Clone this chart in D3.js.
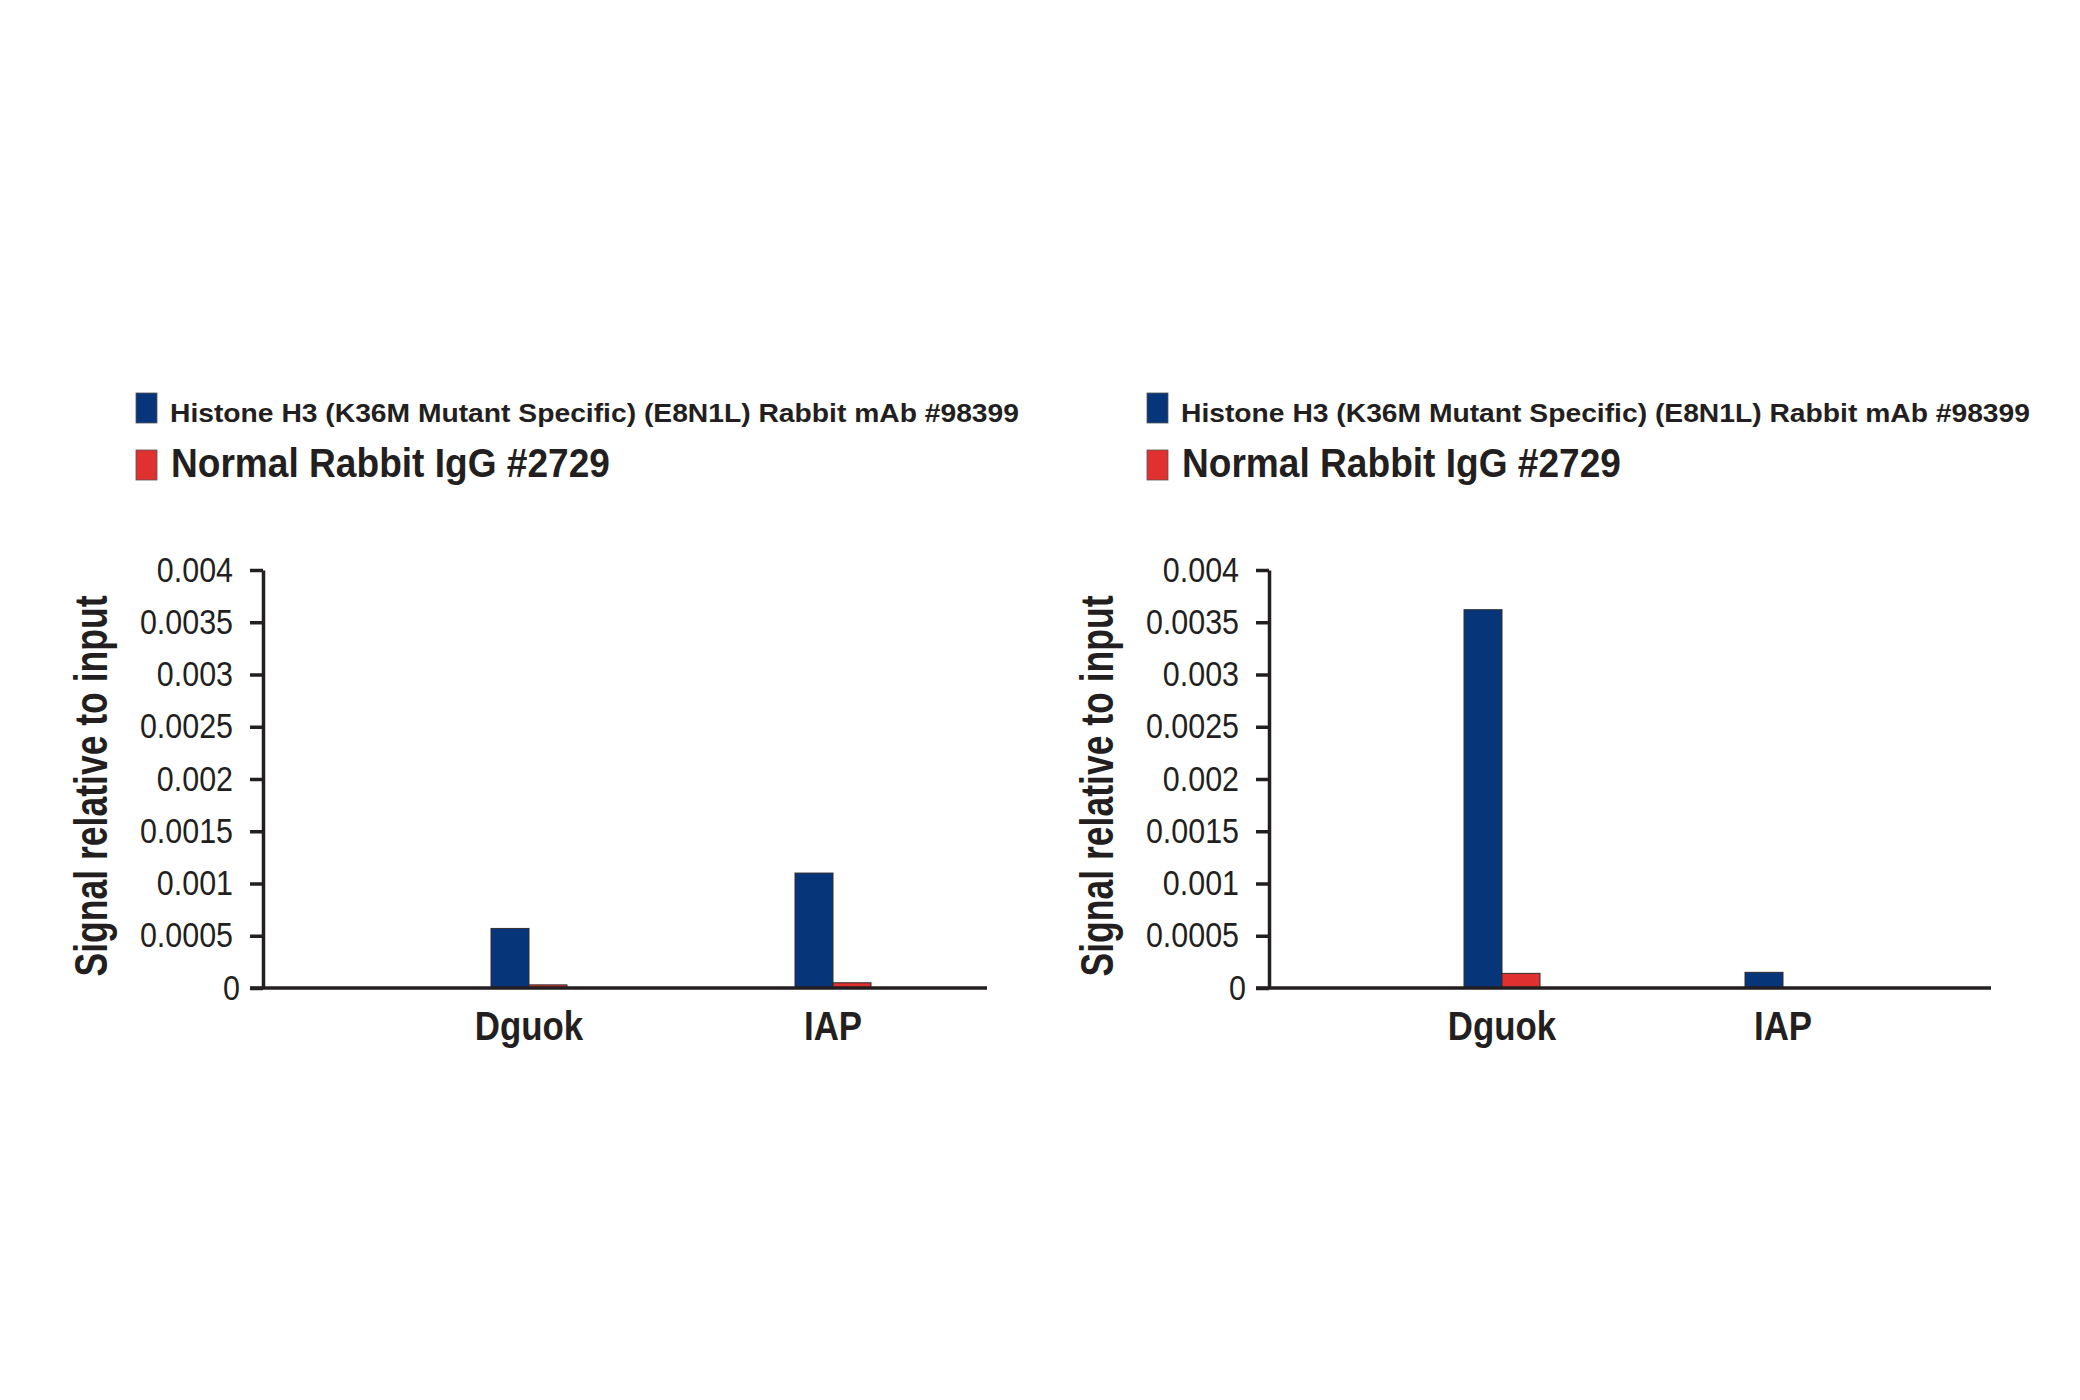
<!DOCTYPE html>
<html>
<head>
<meta charset="utf-8">
<script src="https://cdn.jsdelivr.net/npm/d3@7"></script>
<style>
  body { margin: 0; background: #fff; }
  svg { display: block; }
  text { fill: #231f20; }
</style>
</head>
<body>
<svg width="2080" height="1400"></svg>
<script>
// chart data
var categories = ["Dguok", "IAP"];
var seriesNames = ["Histone H3 (K36M Mutant Specific) (E8N1L) Rabbit mAb #98399", "Normal Rabbit IgG #2729"];
var leftK36M = [0.00057, 0.0011];
var leftIgG = [0.00003, 0.00005];
var rightK36M = [0.00362, 0.00015];
var rightIgG = [0.00014, 0];
var yTicks = [0, 0.0005, 0.001, 0.0015, 0.002, 0.0025, 0.003, 0.0035, 0.004];
var yTickLabels = ["0", "0.0005", "0.001", "0.0015", "0.002", "0.0025", "0.003", "0.0035", "0.004"];
var yTitle = "Signal relative to input";

var colors = ["#063579", "#e0302f"];
var font = "'Liberation Sans', Arial, Helvetica, sans-serif";
var ink = "#231f20";
var tickSqueeze = 0.87;   // fake a condensed face
var labelSqueeze = 0.85;

var svg = d3.select("svg");

function drawPanel(opt, k36m, igg)
{
    var g = svg.append("g");

    // legend
    var legendRows = [
        {name: seriesNames[0], color: colors[0], base: 422, size: 25, len: 849, sy: 393},
        {name: seriesNames[1], color: colors[1], base: 477, size: 40, len: 439, sy: 450}
    ];
    legendRows.forEach(function(r, i) {
        g.append("rect")
            .attr("x", opt.legendX)
            .attr("y", r.sy)
            .attr("width", 21)
            .attr("height", 30)
            .style("fill", r.color)
            .attr("stroke", "#555")
            .attr("stroke-width", 0.8);
        g.append("text")
            .attr("x", opt.legendX + 34 + i * 1)
            .attr("y", r.base)
            .attr("font-family", font)
            .attr("font-weight", "bold")
            .attr("font-size", r.size)
            .attr("textLength", r.len)
            .attr("lengthAdjust", "spacingAndGlyphs")
            .text(r.name);
    });

    var y = d3.scaleLinear().domain([0, 0.004]).range([988, 570]);
    var x = d3.scaleBand().domain(categories).range(opt.bandRange);
    var step = x.bandwidth();
    var xSub = d3.scaleBand().domain(seriesNames).range([step / 2 - 38, step / 2 + 38]);

    // bars
    var rows = categories.map(function(c, i) { return {cat: c, vals: [k36m[i], igg[i]]}; });
    var groups = g.selectAll("g.grp")
        .data(rows)
        .enter().append("g")
        .attr("class", "grp")
        .attr("transform", function(d) { return "translate(" + x(d.cat) + ",0)"; });

    groups.selectAll("rect")
        .data(function(d) { return d.vals.map(function(v, j) { return {v: v, s: seriesNames[j], j: j}; }); })
        .enter().append("rect")
        .filter(function(d) { return d.v > 0; })
        .attr("x", function(d) { return xSub(d.s); })
        .attr("y", function(d) { return y(d.v); })
        .attr("width", xSub.bandwidth())
        .attr("height", function(d) { return y(0) - y(d.v); })
        .style("fill", function(d) { return colors[d.j]; })
        .attr("stroke", "#2e2e2e")
        .attr("stroke-width", 1);

    // y axis
    var yAxis = d3.axisLeft(y)
        .tickValues(yTicks)
        .tickFormat(function(d, i) { return yTickLabels[i]; })
        .tickSize(13)
        .tickSizeOuter(0)
        .tickPadding(17);
    var ya = g.append("g")
        .attr("transform", "translate(" + opt.axisX + ",0)")
        .call(yAxis);
    ya.select(".domain").attr("stroke", ink).attr("stroke-width", 3.5);
    ya.selectAll(".tick line").attr("stroke", ink).attr("stroke-width", 3.5);
    ya.selectAll(".tick text")
        .attr("font-family", font)
        .attr("font-size", 35)
        .attr("fill", ink)
        .attr("x", function(d) { return (d === 0 ? -23 : -30) / tickSqueeze; })
        .attr("transform", "scale(" + tickSqueeze + ",1)");

    // x axis baseline
    g.append("line")
        .attr("x1", opt.axisX - 13)
        .attr("x2", opt.axisEnd)
        .attr("y1", y(0))
        .attr("y2", y(0))
        .attr("stroke", ink)
        .attr("stroke-width", 3.5);

    var xa = g.append("g")
        .attr("transform", "translate(0," + y(0) + ")")
        .call(d3.axisBottom(x).tickSize(0).tickPadding(23));
    xa.select(".domain").remove();
    xa.selectAll(".tick text")
        .attr("font-family", font)
        .attr("font-weight", "bold")
        .attr("font-size", 41)
        .attr("fill", ink)
        .attr("transform", "scale(" + labelSqueeze + ",1)");

    // y title
    g.append("text")
        .attr("transform", "translate(" + (opt.axisX - 156) + ",786) rotate(-90)")
        .attr("text-anchor", "middle")
        .attr("font-family", font)
        .attr("font-weight", "bold")
        .attr("font-size", 46)
        .attr("textLength", 381)
        .attr("lengthAdjust", "spacingAndGlyphs")
        .text(yTitle);
}

drawPanel({legendX: 136, axisX: 263, axisEnd: 987, bandRange: [377, 985]}, leftK36M, leftIgG);
drawPanel({legendX: 1147, axisX: 1269, axisEnd: 1991, bandRange: [1361.5, 1923.5]}, rightK36M, rightIgG);
</script>
</body>
</html>
